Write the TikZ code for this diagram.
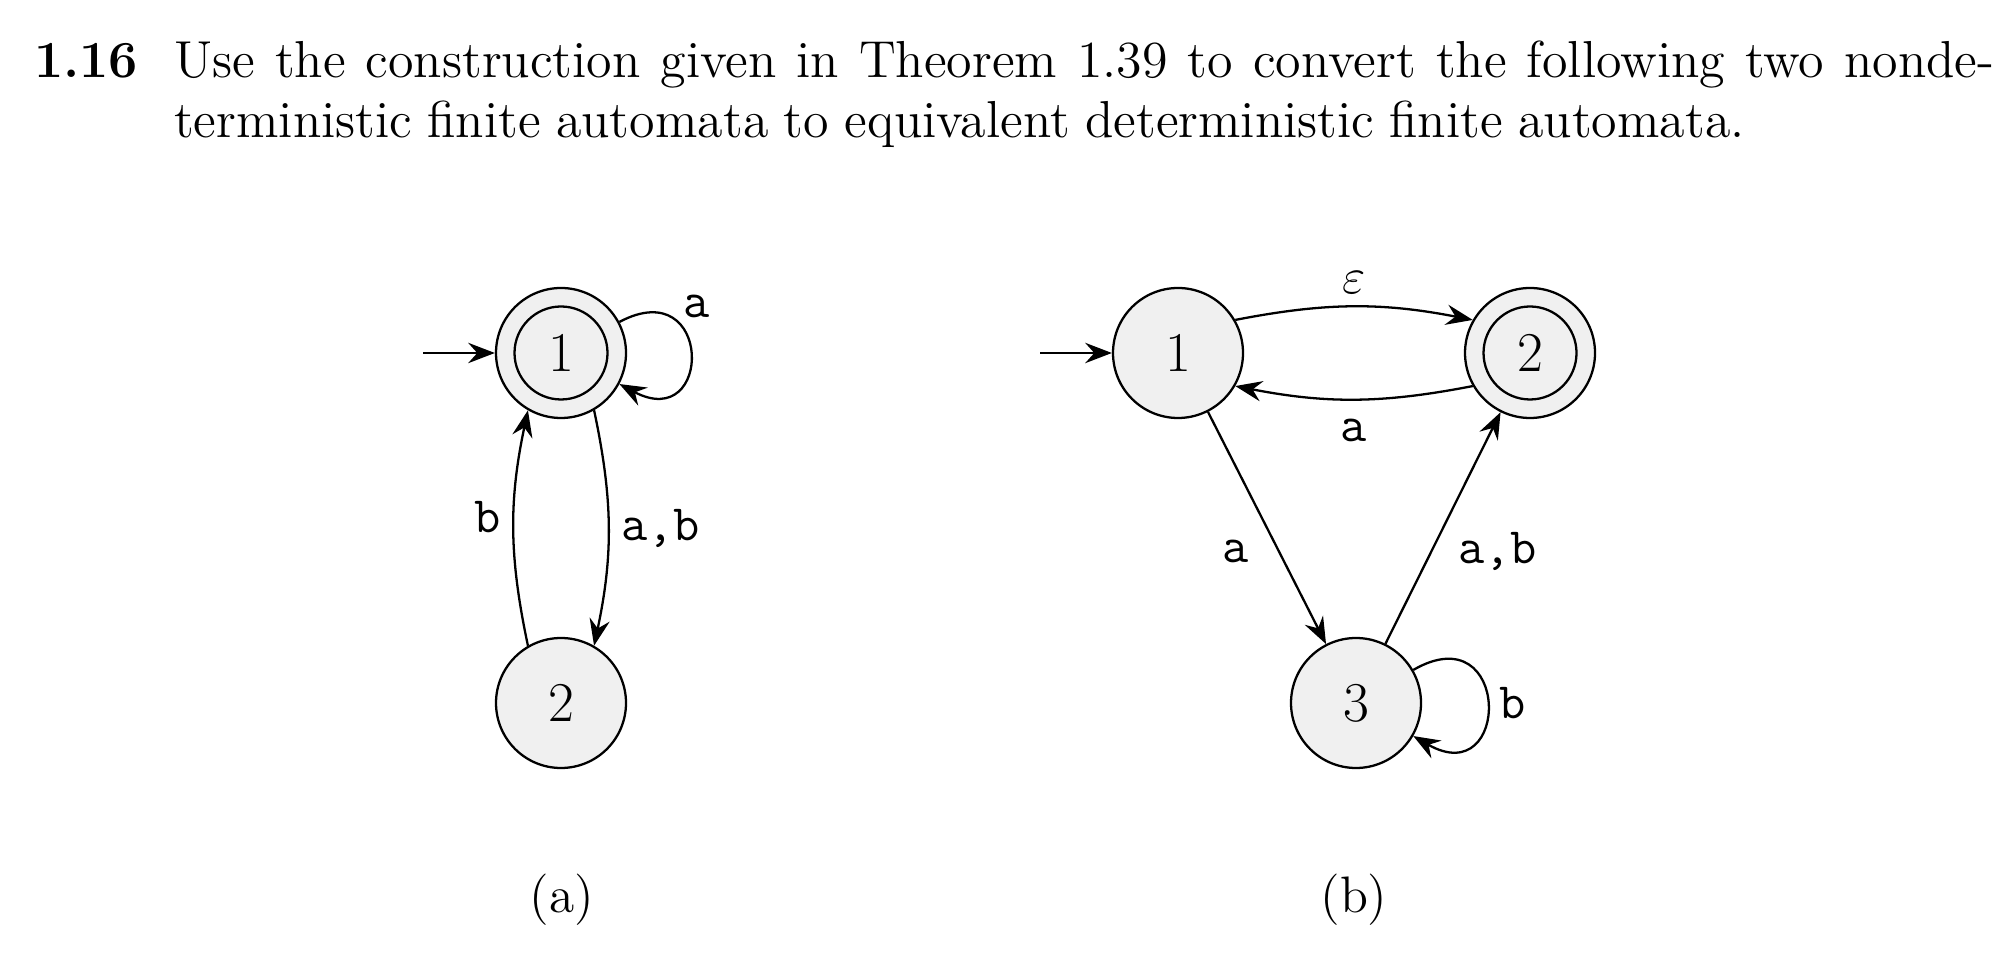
\documentclass[tikz,border=0pt]{standalone}
\usepackage{amsmath}
\usepackage{amssymb}
\usepackage{tikz}
\usetikzlibrary{arrows.meta}
\usetikzlibrary{positioning}

\definecolor{stategray}{gray}{0.94}

\begin{document}
\begin{tikzpicture}[-,>={Stealth[length=7.6pt,width=5.8pt,inset=2.6pt]},auto,
				line width=0.65pt,
				state node/.style={circle,fill=stategray,draw,minimum size=1.3cm,
					inner sep=0pt,font=\fontsize{16}{19}\selectfont},
				accept node/.style={state node,path picture={
					\draw (path picture bounding box.center) circle (0.465cm);}},
				title text/.style={anchor=base west,inner sep=0pt,
					font=\fontsize{14.8}{17.5}\selectfont},
				caption text/.style={anchor=base,inner sep=0pt,
					font=\fontsize{14.6}{17.5}\selectfont}]
				
				\useasboundingbox (0,0) rectangle (20.16,-9.74);
				
				% exercise text
				\node[title text] (num) at (0.33,-0.78) {\bfseries 1.16};
				\node[title text] (line1) at (1.73,-0.78) {\spaceskip=5.7pt Use the construction given in Theorem 1.39 to convert the following two nonde-};
				\node[title text] (line2) at ([yshift=-6.0mm]line1.base west) {\spaceskip=4.4pt terministic finite automata to equivalent deterministic finite automata.};
				
				% automaton (a)
				\node[accept node] (A1) at (5.61,-3.53) {1};
				\node[state node] (A2) [below of=A1, node distance=3.5cm] {2};
				\coordinate (A0) at (4.23,-3.53);
				
				% automaton (b)
				\node[state node] (B1) at (11.78,-3.53) {1};
				\node[accept node] (B2) [right of=B1, node distance=3.52cm] {2};
				\node[state node] (B3) at (13.56,-7.03) {3};
				\coordinate (B0) at (10.40,-3.53);
				
				\tikzstyle{every loop}=[looseness=4.4,min distance=5mm]
				\path[->,every node/.style={font=\fontsize{14.5}{17}\selectfont\ttfamily}]
				(A0) edge (A1)
				(A1) edge[out=28, in=-28, loop] node[pos=0.3, above right, inner sep=1pt] {a} (A1)
				(A1.-60) edge[out=-78, in=78] node {a,b} (A2.60)
				(A2.120) edge[out=102, in=-102] node[pos=0.55] {b} (A1.-120)
				(B0) edge (B1)
				(B1.30) edge[out=11, in=169] node {$\varepsilon$} (B2.150)
				(B2.-150) edge[out=-169, in=-11] node[below=2pt] {a} (B1.-30)
				(B1) edge node[pos=0.6, left=5pt] {a} (B3)
				(B3) edge node[pos=0.4, right=4pt] {a,b} (B2)
				(B3) edge[out=30, in=-30, loop] node {b} (B3);
				
				\node[caption text] (capA) at (5.62,-9.12) {(a)};
				\node[caption text] (capB) at (13.54,-9.12) {(b)};
			\end{tikzpicture}
\end{document}
